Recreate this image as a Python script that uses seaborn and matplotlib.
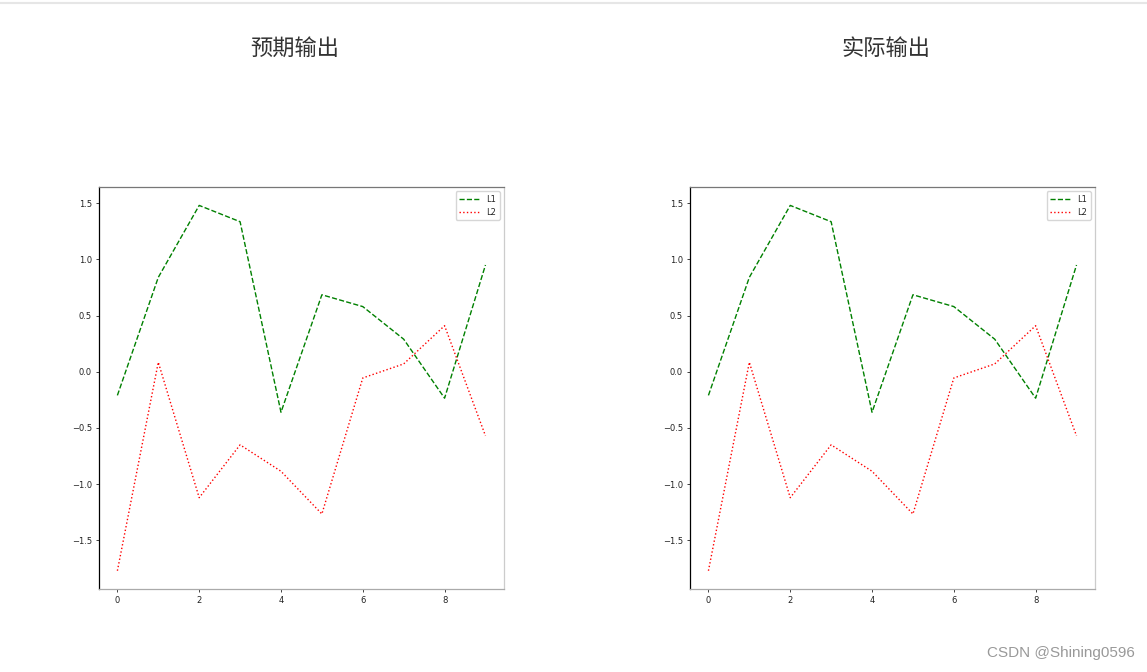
import numpy as np
import pandas as pd
import matplotlib
matplotlib.use('Agg')
import matplotlib.pyplot as plt
import seaborn as sns

# data
x = list(range(10))
l1 = [-0.21, 0.84, 1.48, 1.335, -0.36, 0.685, 0.58, 0.29, -0.235, 0.95]
l2 = [-1.77, 0.085, -1.12, -0.65, -0.885, -1.265, -0.055, 0.07, 0.41, -0.57]
titles = ['预期输出', '实际输出']

sns.set_style('white')
plt.rcParams['font.family'] = ['DejaVu Sans']

fig = plt.figure(figsize=(11.47, 6.72), dpi=100)
lefts = [0.0863, 0.6016]
title_x = [0.257, 0.772]

for i in range(2):
    ax = fig.add_axes([lefts[i], 0.1235, 0.353, 0.598])
    sns.lineplot(x=x, y=l1, color='green', linestyle='--', linewidth=1, label='L1', ax=ax)
    sns.lineplot(x=x, y=l2, color='red', linestyle=':', linewidth=1, label='L2', ax=ax)
    ax.tick_params(labelsize=6, length=2.5, width=0.6, pad=2.5, left=True, bottom=True, colors='#222222')
    ax.spines['left'].set_color('black')
    ax.spines['top'].set_color('#777777')
    ax.spines['bottom'].set_color('#aaaaaa')
    ax.spines['right'].set_color('#cccccc')
    for s in ax.spines.values():
        s.set_linewidth(0.9)
    ax.legend(loc='upper right', fontsize=6, handlelength=2.5, frameon=True)
    fig.text(title_x[i], 0.928, titles[i], fontsize=16, color='#333333', ha='center', va='center',
             family=['Noto Sans CJK SC', 'DejaVu Sans'])

fig.add_artist(plt.Line2D([0, 1], [0.996, 0.996], color='#e6e6e6', linewidth=1.5))
fig.text(0.989, 0.029, 'CSDN @Shining0596', fontsize=11, color='#999999', ha='right', va='center',
         family=['Liberation Sans', 'DejaVu Sans'])

plt.savefig('out.png', dpi=100)
